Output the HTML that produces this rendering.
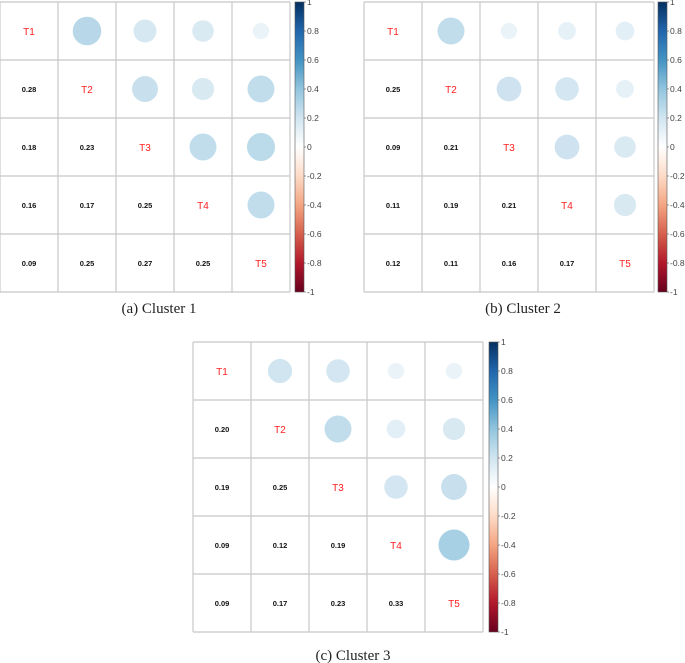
<!DOCTYPE html>
<html><head><meta charset="utf-8"><style>
body{margin:0;background:#fff;width:685px;height:663px;overflow:hidden}
svg{display:block}
</style></head><body>
<svg id="chart" width="685" height="663" xmlns="http://www.w3.org/2000/svg">
<defs><linearGradient id="cb" x1="0" y1="1" x2="0" y2="0">
<stop offset="0" stop-color="#67001F"/><stop offset="0.1" stop-color="#B2182B"/><stop offset="0.2" stop-color="#D6604D"/><stop offset="0.3" stop-color="#F4A582"/><stop offset="0.4" stop-color="#FDDBC7"/><stop offset="0.5" stop-color="#FFFFFF"/><stop offset="0.6" stop-color="#D1E5F0"/><stop offset="0.7" stop-color="#92C5DE"/><stop offset="0.8" stop-color="#4393C3"/><stop offset="0.9" stop-color="#2166AC"/><stop offset="1" stop-color="#053061"/>
</linearGradient></defs>
</svg>
<script>
const labels=["T1","T2","T3","T4","T5"];
const cluster1=[[1,0.28,0.18,0.16,0.09],[0.28,1,0.23,0.17,0.25],[0.18,0.23,1,0.25,0.27],[0.16,0.17,0.25,1,0.25],[0.09,0.25,0.27,0.25,1]];
const cluster2=[[1,0.25,0.09,0.11,0.12],[0.25,1,0.21,0.19,0.11],[0.09,0.21,1,0.21,0.16],[0.11,0.19,0.21,1,0.17],[0.12,0.11,0.16,0.17,1]];
const cluster3=[[1,0.20,0.19,0.09,0.09],[0.20,1,0.25,0.12,0.17],[0.19,0.25,1,0.19,0.23],[0.09,0.12,0.19,1,0.33],[0.09,0.17,0.23,0.33,1]];
const cbTicks=[1,0.8,0.6,0.4,0.2,0,-0.2,-0.4,-0.6,-0.8,-1];
const captions=["(a) Cluster 1","(b) Cluster 2","(c) Cluster 3"];
const NS="http://www.w3.org/2000/svg";
const svg=document.getElementById('chart');
const pal=["#67001F","#B2182B","#D6604D","#F4A582","#FDDBC7","#FFFFFF","#D1E5F0","#92C5DE","#4393C3","#2166AC","#053061"];
function h2r(h){return [1,3,5].map(i=>parseInt(h.substr(i,2),16));}
function col(v){const t=(v+1)/2*10;const i=Math.min(9,Math.floor(t));const f=t-i;const a=h2r(pal[i]),b=h2r(pal[i+1]);return "rgb("+a.map((x,k)=>Math.round(x+(b[k]-x)*f)).join(",")+")";}
function mk(tag,attrs,parent){const e=document.createElementNS(NS,tag);for(const k in attrs)e.setAttribute(k,attrs[k]);(parent||svg).appendChild(e);return e;}
const panels=[{m:cluster1,x:0,y:2,cbx:295,cx:159,cy:313},{m:cluster2,x:364,y:2,cbx:658,cx:523,cy:313},{m:cluster3,x:193,y:342,cbx:489,cx:353,cy:660}];
const W=290,n=5,cs=W/n;
panels.forEach((p,pi)=>{
 const g=mk('g',{});
 
 
 for(let r=0;r<n;r++)for(let c=0;c<n;c++){
  const x0=p.x+c*cs,y0=p.y+r*cs,cx=x0+cs/2,cy=y0+cs/2,v=p.m[r][c];
  if(r===c){const t=mk('text',{x:cx,y:cy+4,'text-anchor':'middle','font-size':10,fill:'#ff2020','font-family':'Liberation Sans, sans-serif'},g);t.textContent=labels[r];
   }
  else if(r>c){const t=mk('text',{x:cx,y:cy+3,'text-anchor':'middle','font-size':7.5,'font-weight':'bold',fill:'#111','font-family':'Liberation Sans, sans-serif'},g);t.textContent=v.toFixed(2);
   }
  else{const ci=mk('circle',{cx:cx,cy:cy,r:27*Math.sqrt(Math.abs(v)),fill:col(v)},g);
   }
 }
 for(let i=0;i<=n;i++){
  mk('line',{x1:p.x+i*cs,y1:p.y,x2:p.x+i*cs,y2:p.y+W,stroke:'#c8c8c8','stroke-width':1.2},g);
  mk('line',{x1:p.x,y1:p.y+i*cs,x2:p.x+W,y2:p.y+i*cs,stroke:'#c8c8c8','stroke-width':1.2},g);
 }
 const cb=mk('rect',{x:p.cbx,y:p.y,width:9,height:W,fill:'url(#cb)',stroke:'#555','stroke-width':0.6},g);
 
 cbTicks.forEach(tv=>{const y=p.y+(1-tv)/2*W;
  mk('line',{x1:p.cbx+9,y1:y,x2:p.cbx+11,y2:y,stroke:'#555','stroke-width':0.6},g);
  const t=mk('text',{x:p.cbx+12,y:y+3,'font-size':8.5,fill:'#444','font-family':'Liberation Sans, sans-serif'},g);t.textContent=tv;
  });
 const cap=mk('text',{x:p.cx,y:p.cy,'text-anchor':'middle','font-size':15,fill:'#222','font-family':'Liberation Serif, serif'},svg);cap.textContent=captions[pi];
 
});
</script>
</body></html>
